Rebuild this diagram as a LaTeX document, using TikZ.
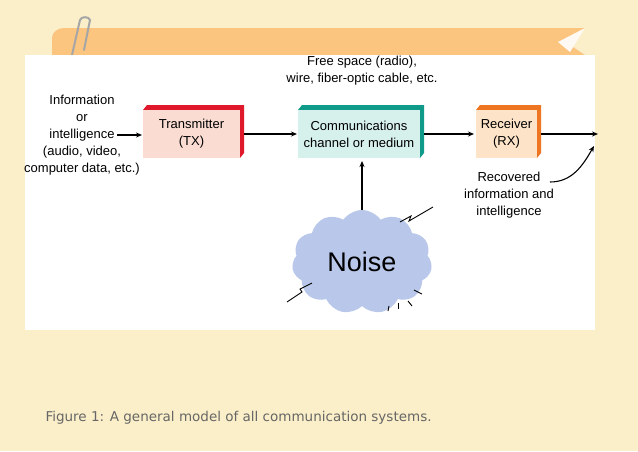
\documentclass[tikz,border=0pt]{standalone}
\usepackage{fontspec}
\setmainfont{Liberation Sans}
\usetikzlibrary{shapes.symbols,arrows.meta}
\definecolor{bg}{HTML}{FBEFC9}
\definecolor{banner}{HTML}{FBC47F}
\definecolor{txf}{HTML}{FADCD2}
\definecolor{txs}{HTML}{E0182B}
\definecolor{chf}{HTML}{D6F0EC}
\definecolor{chs}{HTML}{109A8A}
\definecolor{rxf}{HTML}{FDE3C8}
\definecolor{rxs}{HTML}{EE7622}
\definecolor{cloudc}{HTML}{B9C8EA}
\begin{document}
\begin{tikzpicture}[x=1pt,y=-1pt,
  lbl/.style={font=\fontsize{13}{17}\selectfont,align=center,inner sep=0pt},
  arr/.style={-{Stealth[length=6pt,width=5pt]},line width=1.1pt},
  bolt/.style={line width=0.9pt}]
\useasboundingbox (0,0) rectangle (638,451);
\fill[bg] (0,0) rectangle (638,451);
% banner
\fill[banner] (52,55) -- (52,38) to[out=90,in=180] (64,28) -- (585,28) -- (570,45) -- (585,55) -- cycle;
\fill[white!90!banner] (558,42) -- (585,28) -- (570,52) -- cycle;
% paperclip
\draw[gray!70,line width=2pt,line cap=round] (72,55) -- (80,20) to[out=75,in=105] (90,20) -- (84,50);
% white panel
\fill[white] (25,55) rectangle (595,330);
% boxes
\newcommand{\blk}[7]{% name, x1,y1,x2,y2, front, side
  \fill[#7] (#2,#3) -- (#2+4,#3-5) -- (#4+4,#3-5) -- (#4+4,#5-5) -- (#4,#5) -- (#4,#3) -- cycle;
  \fill[#6] (#2,#3) rectangle (#4,#5);
  \coordinate (#1) at ({(#2+#4)/2},{(#3+#5)/2});}
\blk{tx}{143}{110}{240}{158}{txf}{txs}
\blk{ch}{298}{110}{420}{158}{chf}{chs}
\blk{rx}{476}{110}{537}{158}{rxf}{rxs}
\node[lbl] (txl) at (tx) {Transmitter\\(TX)};
\node[lbl] (chl) at (ch) {Communications\\channel or medium};
\node[lbl] (rxl) at (rx) {Receiver\\(RX)};
\node[lbl] (fs) at (362,71) {Free space (radio),\\wire, fiber-optic cable, etc.};
\node[lbl] (info) at (82,135) {Information\\or\\intelligence\\(audio, video,\\computer data, etc.)};
\node[lbl] (rec) at (509,195) {Recovered\\information and\\intelligence};
\coordinate (inA) at (117,135);
\coordinate (out) at (598,134);
\coordinate (recA) at (550,182);
\coordinate (recB) at (594,146);
\draw[arr] (inA) -- (142,135);
\draw[arr] (244,134) -- (297,134);
\draw[arr] (424,134) -- (474,134);
\draw[arr] (541,134) -- (out);
\draw[arr] (recA) to[out=0,in=240] (recB);
% cloud
\node[cloud,cloud puffs=11,cloud puff arc=110,aspect=1.4,fill=cloudc,minimum width=140pt,minimum height=104pt,inner sep=0pt] (noise) at (362,262) {};
\node[font=\fontsize{27}{27}\selectfont] (nt) at (noise) {Noise};
\draw[arr] (noise.north) -- (362,161);
\draw[bolt] (400,222) -- (411,216) -- (409,221) -- (433,207);
\draw[bolt] (287,302) -- (302,292) -- (300,289) -- (312,283);
\draw[bolt] (414,290) -- (422,294);
\draw[bolt] (408,301) -- (412,306);
\draw[bolt] (398,303) -- (398,309);
\draw[bolt] (389,306) -- (388,311);
% caption
\node[anchor=west,text=gray!80!black,font=\fontsize{13.5}{16}\selectfont\fontspec{DejaVu Sans}] (cap) at (42,418) {Figure 1: A general model of all communication systems.};
\end{tikzpicture}
\end{document}
